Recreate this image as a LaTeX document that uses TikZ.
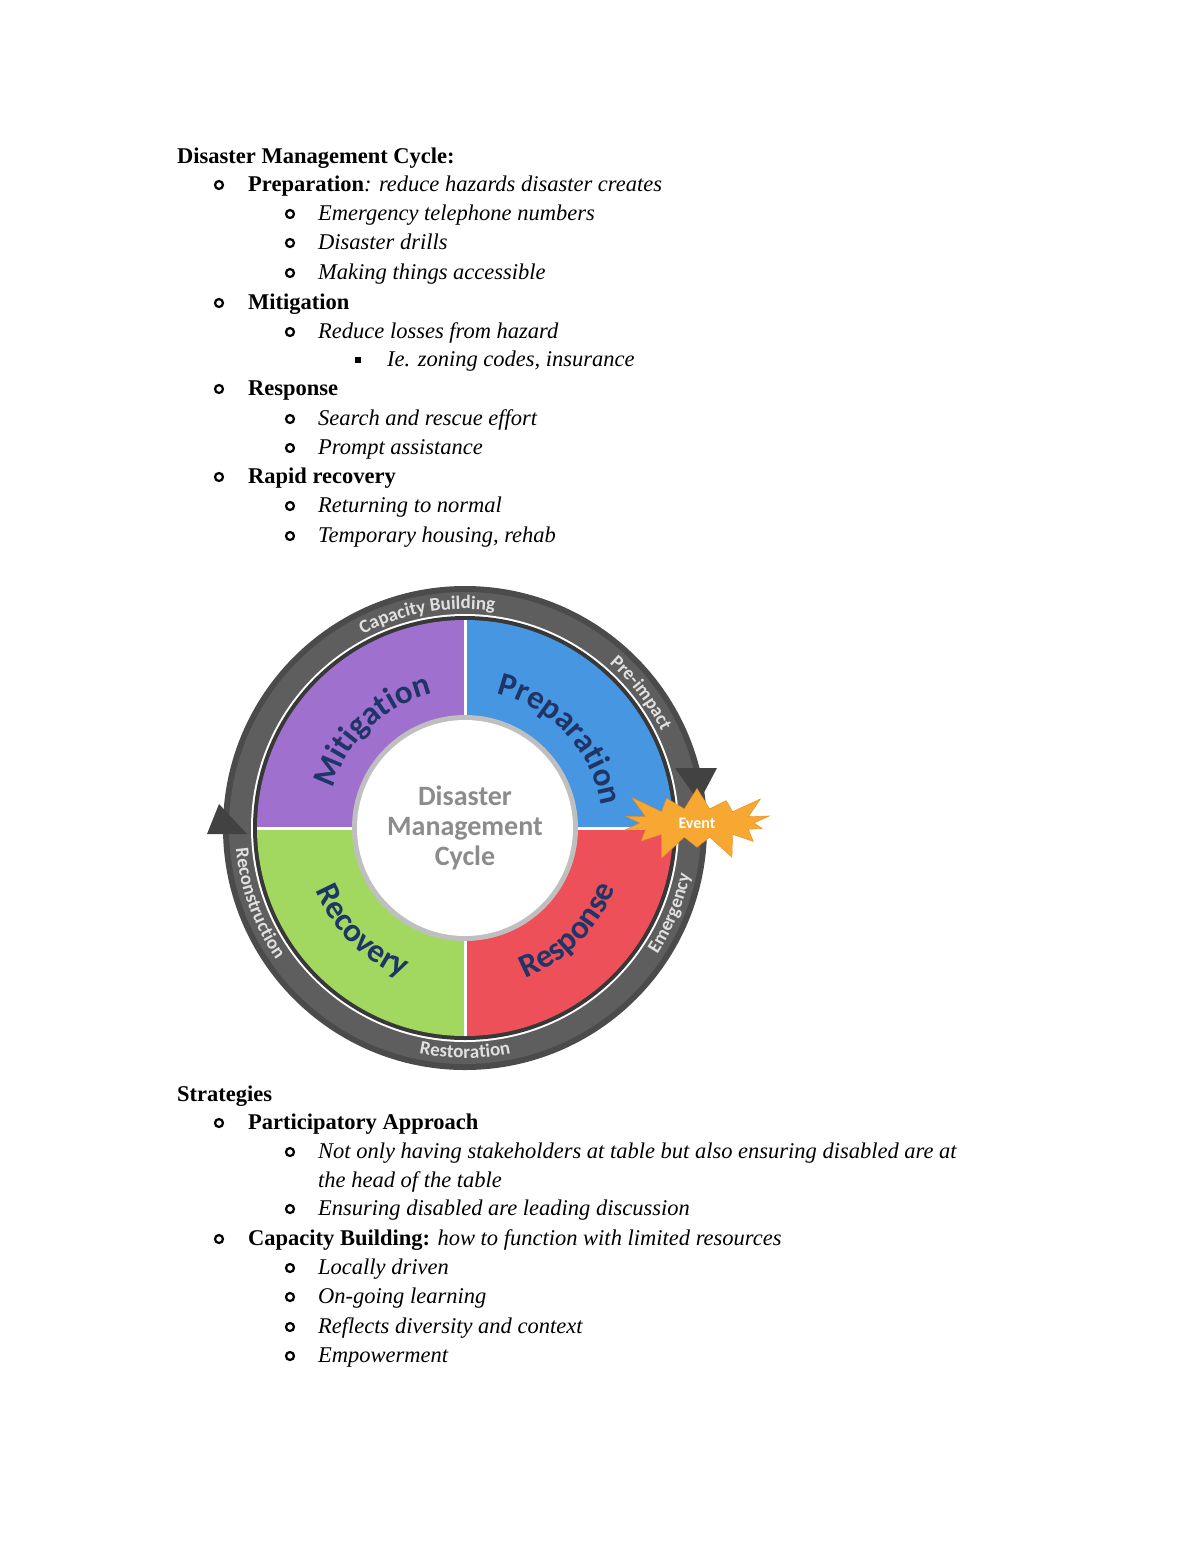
\documentclass[tikz,border=0pt]{standalone}
\usepackage{fontspec}
\setmainfont{Liberation Serif}
\newfontfamily\dsans{Carlito}
\usetikzlibrary{decorations.text,shapes.symbols}
\definecolor{lab}{HTML}{1F3568}
\definecolor{ringc}{HTML}{5E5E5E}
\definecolor{cpur}{RGB}{160,112,206}
\definecolor{cblu}{RGB}{70,150,226}
\definecolor{cred}{RGB}{238,80,90}
\definecolor{cgrn}{RGB}{162,216,96}
\definecolor{cev}{RGB}{247,168,50}
\definecolor{cevd}{RGB}{230,140,30}
\tikzset{
 txt/.style={anchor=base west,inner sep=0pt,font=\fontsize{22.5}{24}\selectfont},
 bul/.style={circle,draw,line width=2.2pt,inner sep=0pt,minimum size=8pt},
}
\newcommand{\Lone}[3]{\node[bul] (#1b) at (219,-#2+6) {}; \node[txt] (#1) at (248,-#2) {#3};}
\newcommand{\Ltwo}[3]{\node[bul] (#1b) at (290,-#2+6) {}; \node[txt] (#1) at (318,-#2) {#3};}
\begin{document}
\begin{tikzpicture}[x=1pt,y=1pt]
\useasboundingbox (0,0) rectangle (1200,-1553);
\node[txt] (h1) at (177,-163) {\textbf{Disaster Management Cycle:}};
\Lone{a}{191}{\textbf{Preparation}\textit{: reduce hazards disaster creates}}
\Ltwo{a1}{220}{\textit{Emergency telephone numbers}}
\Ltwo{a2}{249}{\textit{Disaster drills}}
\Ltwo{a3}{279}{\textit{Making things accessible}}
\Lone{b}{309}{\textbf{Mitigation}}
\Ltwo{b1}{338}{\textit{Reduce losses from hazard}}
\node[anchor=center,inner sep=0pt] (b2b) at (358,-360) {\rule{6pt}{6pt}};
\node[txt] (b2) at (387,-366) {\textit{Ie. zoning codes, insurance}};
\Lone{c}{395}{\textbf{Response}}
\Ltwo{c1}{425}{\textit{Search and rescue effort}}
\Ltwo{c2}{454}{\textit{Prompt assistance}}
\Lone{d}{483}{\textbf{Rapid recovery}}
\Ltwo{d1}{512}{\textit{Returning to normal}}
\Ltwo{d2}{542}{\textit{Temporary housing, rehab}}
\node[txt] (h2) at (177,-1101) {\textbf{Strategies}};
\Lone{e}{1129}{\textbf{Participatory Approach}}
\Ltwo{e1}{1158}{\textit{Not only having stakeholders at table but also ensuring disabled are at}}
\node[txt] (e1b2) at (318,-1187) {\textit{the head of the table}};
\Ltwo{e2}{1215}{\textit{Ensuring disabled are leading discussion}}
\Lone{f}{1245}{\textbf{Capacity Building:} \textit{how to function with limited resources}}
\Ltwo{f1}{1274}{\textit{Locally driven}}
\Ltwo{f2}{1303}{\textit{On-going learning}}
\Ltwo{f3}{1333}{\textit{Reflects diversity and context}}
\Ltwo{f4}{1362}{\textit{Empowerment}}
% diagram
\begin{scope}[shift={(465,-828)}]
\fill[ringc!80!black] (0,0) circle (242);
\fill[ringc] (0,0) circle (236);
\fill[white] (0,0) circle (214);
\fill[ringc!60!black] (0,0) circle (212);
\fill[cpur] (0,0) -- (180:208) arc (180:90:208) -- cycle;
\fill[cblu] (0,0) -- (90:208) arc (90:0:208) -- cycle;
\fill[cred] (0,0) -- (0:208) arc (0:-90:208) -- cycle;
\fill[cgrn] (0,0) -- (-90:208) arc (-90:-180:208) -- cycle;
\draw[white,line width=3pt] (-208,0) -- (208,0) (0,-208) -- (0,208);
\fill[black!25] (0,0) circle (113);
\fill[white] (0,0) circle (108);
\node[align=center,text=black!45,font=\dsans\bfseries\fontsize{28}{30}\selectfont] (ctr) at (0,0) {Disaster\\Management\\Cycle};
\tikzset{qlab/.style={decorate,decoration={text along path,text align=center,text={|\dsans\bfseries\fontsize{33}{33}\selectfont\color{lab}|#1}}}}
\path[qlab=Mitigation] (172:138) arc (172:95:138);
\path[qlab=Preparation] (88:138) arc (88:-2:138);
\path[qlab=Response] (-80:162) arc (-80:-10:162);
\path[qlab=Recovery] (-172:162) arc (-172:-98:162);
\tikzset{rlab/.style={decorate,decoration={text along path,text align=center,text={|\dsans\bfseries\fontsize{19}{19}\selectfont\color{black!12}|#1}}}}
\path[rlab=Capacity Building] (132:219) arc (132:68:219);
\path[rlab=Pre-impact] (57:219) arc (57:18:219);
\path[rlab=Emergency] (-40:230) arc (-40:-5:230);
\path[rlab=Restoration] (-110:230) arc (-110:-70:230);
\path[rlab=Reconstruction] (178:230) arc (178:222:230);
\fill[ringc!70!black] (210,60) -- (252,60) -- (234,26) -- cycle;
\fill[ringc!70!black] (-218,-6) -- (-258,-6) -- (-246,24) -- cycle;
\end{scope}
\node[starburst,starburst points=14,starburst point height=28pt,minimum width=170pt,minimum height=85pt,
 fill=cev,draw=cevd,text=white,font=\dsans\bfseries\fontsize{16}{16}\selectfont] (ev) at (697,-823) {Event};
\end{tikzpicture}
\end{document}
